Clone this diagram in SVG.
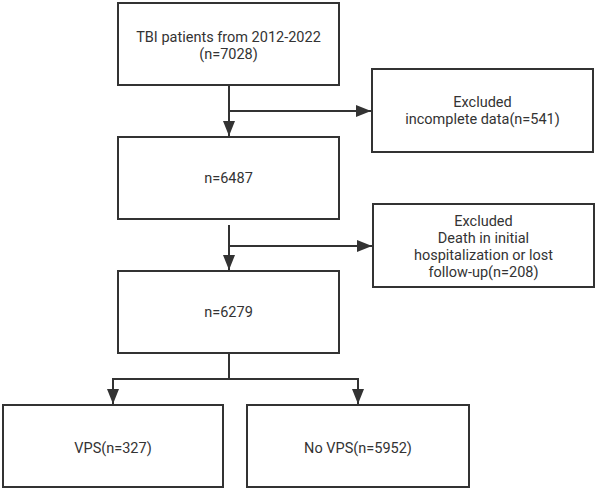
<svg xmlns="http://www.w3.org/2000/svg" width="597" height="492" viewBox="0 0 597 492">
<defs>
<style>
.box{fill:#fff;stroke:#333;stroke-width:2}
.ln{fill:none;stroke:#333;stroke-width:2}
text{font-family:Roboto,"Noto Sans","DejaVu Sans",sans-serif;font-size:14.5px;fill:#333;text-anchor:middle}
</style>
<marker id="ah" viewBox="0 0 15 12" refX="15" refY="6" markerWidth="7.5" markerHeight="6" markerUnits="strokeWidth" orient="auto">
<path d="M0,0 L15,6 L0,12 z" fill="#333"/>
</marker>
</defs>
<rect width="597" height="492" fill="#fff"/>
<g id="connectors">
<path class="ln" d="M229,85 V136" marker-end="url(#ah)"/>
<path class="ln" d="M229,111 H371" marker-end="url(#ah)"/>
<path class="ln" d="M229,225 V270" marker-end="url(#ah)"/>
<path class="ln" d="M229,246 H372" marker-end="url(#ah)"/>
<path class="ln" d="M229,353 V379"/>
<path class="ln" d="M113,379 H358"/>
<path class="ln" d="M113,378 V404" marker-end="url(#ah)"/>
<path class="ln" d="M358,378 V404" marker-end="url(#ah)"/>
</g>
<g id="n1"><rect class="box" x="118" y="3" width="221" height="82"/>
<text x="228.5" y="42">TBI patients from 2012-2022</text><text x="228.5" y="59">(n=7028)</text></g>
<g id="n2"><rect class="box" x="118" y="137" width="221" height="82"/>
<text x="228.5" y="183">n=6487</text></g>
<g id="n3"><rect class="box" x="118" y="271" width="221" height="82"/>
<text x="228.5" y="317">n=6279</text></g>
<g id="ex1"><rect class="box" x="372" y="69" width="221" height="83"/>
<text x="482.5" y="107">Excluded</text><text x="482.5" y="124">incomplete data(n=541)</text></g>
<g id="ex2"><rect class="box" x="373" y="204" width="221" height="83"/>
<text x="483.5" y="226">Excluded</text><text x="483.5" y="243">Death in initial</text><text x="483.5" y="260">hospitalization or lost</text><text x="483.5" y="277">follow-up(n=208)</text></g>
<g id="vps"><rect class="box" x="3" y="405" width="220" height="82"/>
<text x="113" y="453">VPS(n=327)</text></g>
<g id="novps"><rect class="box" x="247" y="405" width="222" height="82"/>
<text x="358" y="453">No VPS(n=5952)</text></g>
</svg>
